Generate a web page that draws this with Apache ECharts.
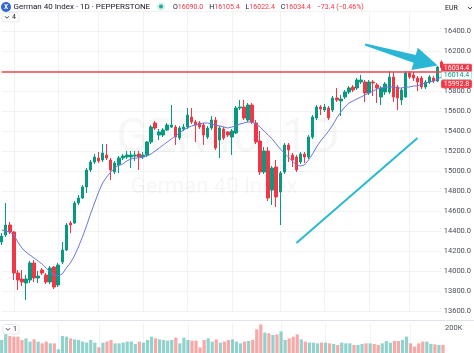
<!DOCTYPE html>
<html>
<head>
<meta charset="utf-8">
<script src="https://cdn.jsdelivr.net/npm/echarts@6/dist/echarts.min.js"></script>
<style>
html,body{margin:0;padding:0;background:#fff;}
#chart{width:474px;height:353px;}
</style>
</head>
<body>
<div id="chart"></div>
<script>
/**
 * German 40 Index daily candles
 */
var opens = [14290,14360,14460,14390,13980,13920,13880,13910,14080,13930,
  14010,13960,13890,14040,13860,14090,14210,14480,14480,14680,
  14730,14840,15010,15090,15130,15110,15160,15110,14990,15060,
  15130,15140,15140,15150,15170,15140,15160,15290,15480,15360,
  15360,15410,15440,15440,15330,15420,15440,15540,15490,15480,
  15460,15340,15430,15510,15310,15420,15390,15340,15380,15630,
  15640,15510,15660,15480,15300,14990,15200,14810,15040,14790,
  14990,15260,15160,15140,15090,15170,15140,15340,15530,15640,
  15610,15630,15610,15730,15700,15740,15790,15840,15830,15890,
  15890,15780,15890,15860,15740,15790,15790,15940,15840,15710,
  15740,15980,15960,15930,15930,15840,15890,15930,15900,16090];
var closes = [14350,14460,14390,13980,13910,13890,13920,14080,13930,13950,
  13980,13890,14030,13840,14060,14210,14460,14460,14680,14730,
  14840,15010,15090,15140,15100,15180,15130,15010,15080,15130,
  15150,15160,15160,15160,15140,15160,15290,15440,15430,15390,
  15410,15460,15460,15340,15430,15440,15560,15490,15460,15440,
  15360,15430,15510,15230,15430,15330,15360,15400,15630,15640,
  15530,15660,15490,15290,14990,15200,14730,15030,14740,14980,
  15260,15210,15110,15010,15170,15140,15340,15540,15640,15620,
  15640,15530,15730,15710,15720,15790,15830,15810,15910,15910,
  15780,15890,15880,15830,15830,15870,15940,15740,15730,15810,
  15980,15940,15930,15890,15840,15890,15940,15900,16040,16034.4];
var lows = [14260,14340,14370,13910,13810,13850,13710,13880,13890,13880,
  13960,13870,13870,13820,13840,14070,14200,14380,14470,14660,
  14720,14780,14990,15070,15080,15090,15110,14910,14970,14980,
  15110,15120,15030,15100,15010,15120,15140,15270,15410,15310,
  15340,15400,15430,15260,15310,15400,15420,15470,15290,15420,
  15260,15320,15410,15210,15130,15310,15340,15160,15370,15610,
  15510,15490,15470,15270,14960,14970,14700,14660,14640,14460,
  14970,15090,15040,14990,15070,15080,15120,15320,15510,15560,
  15590,15510,15590,15690,15550,15720,15770,15790,15810,15870,
  15690,15760,15750,15680,15660,15760,15770,15690,15610,15660,
  15730,15920,15900,15800,15820,15820,15870,15880,15890,16022.4];
var highs = [14380,14680,14490,14400,14010,14010,13960,14100,14110,14000,
  14030,13980,14050,14050,14080,14290,14480,14500,14700,14760,
  14860,15030,15110,15170,15190,15270,15270,15130,15100,15150,
  15170,15200,15200,15200,15200,15190,15300,15460,15500,15420,
  15430,15480,15660,15460,15450,15470,15630,15630,15510,15500,
  15480,15450,15550,15540,15450,15440,15400,15420,15650,15710,
  15710,15680,15680,15510,15400,15240,15240,15050,15110,15000,
  15280,15280,15180,15160,15190,15190,15360,15560,15660,15660,
  15670,15650,15750,15830,15760,15810,15850,15860,15930,15960,
  15910,15910,15910,15880,15850,15890,16000,15990,15860,15830,
  16000,16000,15990,15950,15950,15910,15960,15950,16050,16105.4];
// moving average line
var maValues = [14410,14400,14390,14360,14290,14230,14190,14160,14130,14100,
  14070,14030,13990,13960,13950,13970,14030,14080,14150,14240,
  14340,14450,14570,14680,14790,14880,14940,14990,15030,15060,
  15070,15100,15120,15130,15130,15140,15150,15170,15200,15230,
  15260,15290,15320,15350,15380,15410,15430,15450,15460,15470,
  15480,15480,15470,15460,15450,15440,15430,15440,15450,15470,
  15480,15490,15490,15470,15440,15400,15360,15320,15270,15220,
  15180,15140,15100,15060,15050,15060,15110,15170,15240,15300,
  15350,15400,15460,15530,15590,15640,15680,15700,15720,15740,
  15760,15780,15800,15820,15830,15840,15840,15840,15830,15830,
  15840,15840,15850,15850,15870,15880,15890,15900,15920,15940];
// volume in K
var volumes = [104,152,136,131,131,104,117,91,109,91,
  77,91,77,77,29,136,131,117,109,104,
  91,83,104,83,45,83,91,104,77,77,
  83,91,91,72,91,83,104,131,117,109,
  104,99,104,123,77,123,104,99,99,45,
  104,117,91,109,83,91,104,109,91,77,
  91,96,104,189,229,163,157,144,149,173,
  104,117,131,149,109,91,83,83,77,83,
  83,77,72,64,83,77,77,64,64,72,
  77,77,72,64,77,96,83,96,96,104,
  131,77,51,77,91,91,72,69,64,64];
var gridDays = [3,14,24,35,46,57,69,80,91,101];
var hLineLevel = 15992.8;
var trendLine = [[72.9, 14280], [103.3, 15330]];
var arrowLine = [[89.7, 16265], [108.4, 16055]];

var UP = '#089981', DOWN = '#f23645';
var days = [], candles = [];
for (var i = 0; i < opens.length; i++) {
  days.push(i);
  candles.push([opens[i], closes[i], lows[i], highs[i]]);
}
var isGrid = function (idx) { return gridDays.indexOf(idx) > -1; };

var chart = echarts.init(document.getElementById('chart'));
chart.setOption({
  animation: false,
  grid: [
    {left: 1.7, right: 31, top: 11, height: 300},
    {left: 1.7, right: 31, top: 323, height: 30}
  ],
  xAxis: [
    {type: 'category', data: days, gridIndex: 0, boundaryGap: false,
      axisLine: {show: false}, axisTick: {show: false}, axisLabel: {show: false},
      splitLine: {show: true, interval: isGrid, lineStyle: {color: '#f0f2f6'}}},
    {type: 'category', data: days, gridIndex: 1, boundaryGap: false,
      axisLine: {show: false}, axisTick: {show: false}, axisLabel: {show: false},
      splitLine: {show: true, interval: isGrid, lineStyle: {color: '#f0f2f6'}}}
  ],
  yAxis: [
    {type: 'value', gridIndex: 0, position: 'right', min: 13600, max: 16600, interval: 200,
      axisLine: {show: false}, axisTick: {show: false},
      axisLabel: {margin: 2, fontSize: 7.5, color: '#4a4e59', fontFamily: 'Roboto', showMaxLabel: false,
        formatter: function (v) { return v.toFixed(1); }},
      splitLine: {lineStyle: {color: '#f0f2f6'}}},
    {type: 'value', gridIndex: 1, position: 'right', min: 0, max: 240, interval: 200,
      axisLine: {show: false}, axisTick: {show: false}, splitLine: {show: false},
      axisLabel: {margin: 2, fontSize: 7.5, color: '#4a4e59', fontFamily: 'Roboto',
        showMinLabel: false, showMaxLabel: false,
        formatter: function (v) { return v + 'K'; }}}
  ],
  series: [
    {type: 'bar', xAxisIndex: 1, yAxisIndex: 1, data: volumes, barWidth: 3.2, clip: false,
      itemStyle: {color: function (p) {
        return closes[p.dataIndex] >= opens[p.dataIndex] ? 'rgba(38,166,154,0.5)' : 'rgba(239,83,80,0.5)';
      }}},
    {type: 'candlestick', xAxisIndex: 0, yAxisIndex: 0, data: candles, barWidth: 3, clip: false,
      itemStyle: {color: UP, color0: DOWN, borderColor: UP, borderColor0: DOWN, borderWidth: 1},
      markLine: {symbol: 'none', silent: true, label: {show: false},
        lineStyle: {color: '#ec4652', width: 1.6, type: 'solid'},
        data: [{yAxis: hLineLevel}]}},
    {type: 'line', xAxisIndex: 0, yAxisIndex: 0, data: maValues, showSymbol: false,
      lineStyle: {color: '#6b78dc', width: 1}, z: 3}
  ]
});

// drawings and header
var px = function (p) { return chart.convertToPixel({xAxisIndex: 0, yAxisIndex: 0}, p); };
var t0 = px(trendLine[0]), t1 = px(trendLine[1]);
var aT = px(arrowLine[0]), aP = px(arrowLine[1]);
var dx = aP[0] - aT[0], dy = aP[1] - aT[1], len = Math.sqrt(dx * dx + dy * dy);
var ux = dx / len, uy = dy / len, nx = -uy, ny = ux;
var hb = [aP[0] - ux * 24, aP[1] - uy * 24];
var arrowPts = [
  [aT[0] + nx * 1, aT[1] + ny * 1],
  [hb[0] + nx * 4, hb[1] + ny * 4],
  [hb[0] + nx * 11.5, hb[1] + ny * 11.5],
  aP,
  [hb[0] - nx * 11.5, hb[1] - ny * 11.5],
  [hb[0] - nx * 4, hb[1] - ny * 4],
  [aT[0] - nx * 1, aT[1] - ny * 1]
];
var priceTag = function (y, text, fill, stroke, color) {
  return [
    {type: 'rect', z: 100, shape: {x: 441.5, y: y - 3.8, width: 30, height: 7.6, r: 1},
      style: {fill: fill, stroke: stroke, lineWidth: 0.8}},
    {type: 'text', z: 101, x: 456.5, y: y, style: {text: text, fontSize: 7, fontFamily: 'Roboto',
      fill: color, align: 'center', verticalAlign: 'middle'}}
  ];
};
var chevron = function (x, y) {
  return {type: 'polyline', z: 100, shape: {points: [[x, y], [x + 2, y + 2], [x + 4, y]]},
    style: {stroke: '#131722', lineWidth: 0.8, fill: null}};
};
var graphics = [
  {type: 'text', z: 0, x: 228, y: 140, style: {text: 'GER40, 1D', fontSize: 48, fontFamily: 'Roboto',
    fill: 'rgba(19,23,34,0.035)', align: 'center', verticalAlign: 'middle'}},
  {type: 'text', z: 0, x: 214, y: 187, style: {text: 'German 40 Index', fontSize: 22, fontFamily: 'Roboto',
    fill: 'rgba(19,23,34,0.04)', align: 'center', verticalAlign: 'middle'}},
  {type: 'line', z: 50, shape: {x1: t0[0], y1: t0[1], x2: t1[0], y2: t1[1]},
    style: {stroke: '#29b9d2', lineWidth: 2}},
  {type: 'polygon', z: 50, shape: {points: arrowPts}, style: {fill: '#2bb6d6'}},
  {type: 'line', z: 1, shape: {x1: 0, y1: 320.5, x2: 474, y2: 320.5}, style: {stroke: '#e0e3eb', lineWidth: 1}},
  {type: 'circle', z: 100, shape: {cx: 6, cy: 7, r: 5}, style: {fill: '#3466d6'}},
  {type: 'text', z: 101, x: 6, y: 7.3, style: {text: 'X', fontSize: 6.5, fontWeight: 'bold', fontFamily: 'Roboto',
    fill: '#fff', align: 'center', verticalAlign: 'middle'}},
  {type: 'text', z: 100, x: 13.5, y: 7, style: {text: 'German 40 Index · 1D · PEPPERSTONE', fontSize: 8,
    fontFamily: 'Roboto', fill: '#131722', verticalAlign: 'middle'}},
  {type: 'circle', z: 100, shape: {cx: 161, cy: 6.5, r: 4}, style: {fill: 'rgba(34,171,148,0.2)'}},
  {type: 'circle', z: 101, shape: {cx: 161, cy: 6.5, r: 2}, style: {fill: '#22ab94'}},
  {type: 'text', z: 100, x: 173, y: 7, style: {
    text: '{k|O}{v|16090.0}  {k|H}{v|16105.4}  {k|L}{v|16022.4}  {k|C}{v|16034.4}  {v|\u221273.4 (\u22120.46%)}',
    verticalAlign: 'middle', fontFamily: 'Roboto',
    rich: {k: {fontSize: 7, fill: '#131722', fontFamily: 'Roboto'}, v: {fontSize: 7, fill: '#f23645', fontFamily: 'Roboto'}}}},
  {type: 'text', z: 100, x: 445, y: 8, style: {text: 'EUR', fontSize: 7, fontFamily: 'Roboto', fill: '#131722',
    verticalAlign: 'middle'}},
  chevron(468, 7),
  {type: 'rect', z: 100, shape: {x: 2, y: 12.5, width: 17, height: 9.5, r: 2},
    style: {fill: '#fff', stroke: '#e0e3eb', lineWidth: 0.8}},
  chevron(5, 16.2),
  {type: 'text', z: 101, x: 12, y: 17.5, style: {text: '4', fontSize: 7, fontFamily: 'Roboto', fill: '#131722',
    verticalAlign: 'middle'}},
  {type: 'rect', z: 100, shape: {x: 3, y: 324.5, width: 16, height: 9.5, r: 2},
    style: {fill: '#fff', stroke: '#e0e3eb', lineWidth: 0.8}},
  chevron(6, 328.2),
  {type: 'text', z: 101, x: 13, y: 329.5, style: {text: '1', fontSize: 7, fontFamily: 'Roboto', fill: '#131722',
    verticalAlign: 'middle'}}
];
graphics = graphics.concat(
  priceTag(68, '16034.4', '#f23645', '#f23645', '#fff'),
  priceTag(75.6, '16014.4', '#fff', '#9fd8cf', '#089981'),
  priceTag(84, '15992.8', '#f23645', '#f23645', '#fff')
);
chart.setOption({graphic: graphics});
</script>
</body>
</html>
